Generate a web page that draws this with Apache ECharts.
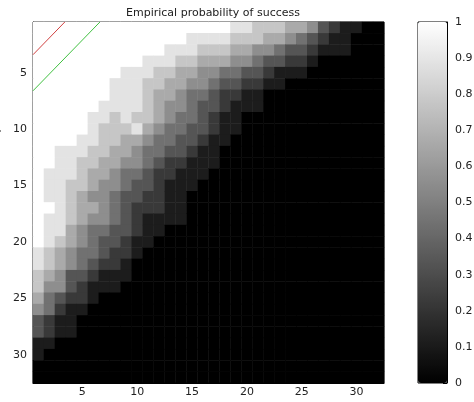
<!DOCTYPE html>
<html>
<head>
<meta charset="UTF-8">
<script src="https://cdn.jsdelivr.net/npm/echarts@6/dist/echarts.min.js"></script>
<style>body{margin:0;background:#fff}</style>
</head>
<body>
<div id="main" style="width:474px;height:402px;"></div>
<script>
// grey level per cell: 0 = black ... 9 = white, row 1 at top
var rows = [
  '9999999999999999998877766532110',
  '99999999999999888877766543211',
  '99999999999988877766554332111',
  '99999999998887766655433221',
  '9999999988877665544332111',
  '99999998887766554332211',
  '999999988876654432211',
  '999999888876554332111',
  '9999988787765443211',
  '9999987778654433211',
  '999988776654433211',
  '99888776654433211',
  '99887766554322111',
  '9888766544322111',
  '988776554332111',
  '98876554332211',
  '99876654322211',
  '98876554321111',
  '988654433211',
  '98765433211',
  '8765443221',
  '876543221',
  '765332111',
  '75532111',
  '643221',
  '54211',
  '3211',
  '3211',
  '11',
  '1',
  '',
  ''
];
var cats = [];
for (var i = 1; i <= 32; i++) cats.push(String(i));
var redLine = [[0.5, 3.4], [3.4, 0.5]];
var greenLine = [[0.5, 6.6], [6.6, 0.5]];

var cells = [];
rows.forEach(function (r, y) {
  var s = r.padEnd(32, '0');
  for (var x = 0; x < 32; x++) cells.push([x, y, +s[x] / 9]);
});

var every5 = function (i) { return (i + 1) % 5 === 0; };
var font = { fontFamily: 'DejaVu Sans', fontSize: 11, color: '#222' };

var myChart = echarts.init(document.getElementById('main'));
myChart.setOption({
  animation: false,
  title: {
    text: 'Empirical probability of success', left: 208, top: 3, textAlign: 'center',
    textStyle: { fontFamily: 'DejaVu Sans', fontSize: 11, fontWeight: 'normal', color: '#222' }
  },
  grid: [
    { left: 33, top: 22, width: 351, height: 361, show: true, borderColor: '#000', borderWidth: 1, outerBoundsMode: 'none', containLabel: false },
    { left: 33, top: 22, width: 351, height: 361, outerBoundsMode: 'none', containLabel: false },
    { left: 418, top: 22, width: 29, height: 361, show: true, borderColor: '#000', borderWidth: 1, outerBoundsMode: 'none', containLabel: false }
  ],
  xAxis: [
    { type: 'category', gridIndex: 0, data: cats, position: 'bottom',
      name: '{n|Number of elements in the  }{b|H}{n| part}', nameLocation: 'middle', nameGap: 20,
      nameTextStyle: { rich: { n: font, b: Object.assign({}, font, { fontWeight: 'bold' }) } },
      axisLine: { lineStyle: { color: '#000' } },
      axisTick: { inside: true, alignWithLabel: true, interval: every5 },
      axisLabel: Object.assign({ interval: every5, margin: 4 }, font), splitLine: { show: false } },
    { type: 'value', gridIndex: 1, min: 0.5, max: 32.5, show: false },
    { type: 'category', gridIndex: 2, data: [''], show: false }
  ],
  yAxis: [
    { type: 'category', gridIndex: 0, data: cats, inverse: true,
      name: '{n|Number of elements in the  }{b|I}{n| part}', nameLocation: 'middle', nameGap: 20,
      nameTextStyle: { rich: { n: font, b: Object.assign({}, font, { fontWeight: 'bold' }) } },
      axisLine: { lineStyle: { color: '#000' } },
      axisTick: { inside: true, alignWithLabel: true, interval: every5 },
      axisLabel: Object.assign({ interval: every5, margin: 6 }, font), splitLine: { show: false } },
    { type: 'value', gridIndex: 1, min: 0.5, max: 32.5, inverse: true, show: false },
    { type: 'value', gridIndex: 2, min: 0, max: 1, interval: 0.1, position: 'right',
      axisLine: { show: true, lineStyle: { color: '#000' } },
      axisTick: { show: true, inside: true, length: 4 },
      axisLabel: Object.assign({ margin: 8, formatter: function (v) { return String(+v.toFixed(1)); } }, font),
      splitLine: { show: false } }
  ],
  visualMap: {
    type: 'continuous', min: 0, max: 1, seriesIndex: 0, calculable: false,
    left: 418, top: 22, itemWidth: 29, itemHeight: 361, padding: 0, text: null, showLabel: false,
    inRange: { color: ['#000000', '#ffffff'] }
  },
  series: [
    { type: 'heatmap', xAxisIndex: 0, yAxisIndex: 0, data: cells, itemStyle: { borderWidth: 0 } },
    { type: 'line', xAxisIndex: 1, yAxisIndex: 1, data: redLine, symbol: 'none',
      lineStyle: { color: '#d04040', width: 1 } },
    { type: 'line', xAxisIndex: 1, yAxisIndex: 1, data: greenLine, symbol: 'none',
      lineStyle: { color: '#40c040', width: 1 } }
  ]
});
</script>
</body>
</html>
